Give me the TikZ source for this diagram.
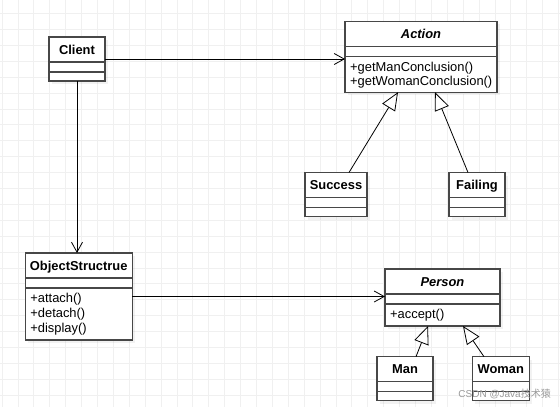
\documentclass[tikz,border=0pt]{standalone}
\usepackage{fontspec}
\setmainfont{Liberation Sans}
\newfontfamily\cjk{Noto Sans CJK SC}
\usetikzlibrary{arrows.meta,shadows}
\newcommand\umlfont{\fontsize{12.9pt}{14.7pt}\selectfont}
\tikzset{
  classbox/.style={draw=black!72, line width=1.3pt, fill=white, inner sep=0pt, outer sep=0pt,
    drop shadow={opacity=0.1, shadow xshift=3pt, shadow yshift=-3pt}},
  classname/.style={font=\umlfont\bfseries, inner sep=0pt, text height=9.2pt, text depth=0pt},
  abstractname/.style={classname, font=\umlfont\bfseries\itshape},
  methods/.style={font=\umlfont, anchor=north west, align=left, inner sep=0pt},
  sepline/.style={draw=black!72, line width=1.3pt},
  assoc/.style={-{Straight Barb[length=10pt,width=11pt]}, line width=0.8pt},
  inherit/.style={-{Triangle[open,length=18pt,width=15pt]}, line width=0.8pt},
  gridline/.style={black!6, line width=0.8pt}
}
\begin{document}
\begin{tikzpicture}[x=1pt, y=-1pt]
  \useasboundingbox (0,0) rectangle (560,407);
  % background grid
  \foreach \i in {0,...,35} \draw[gridline] ({2+15.9*\i},0) -- ({2+15.9*\i},407);
  \foreach \j in {0,...,24} \draw[gridline] (0,{13.5+15.9*\j}) -- (560,{13.5+15.9*\j});

  % classes
  \node[classbox, minimum width=56, minimum height=44] (client) at (77,59) {};
  \node[classbox, minimum width=152, minimum height=71] (action) at (421,56.7) {};
  \node[classbox, minimum width=62, minimum height=44] (success) at (336,194.5) {};
  \node[classbox, minimum width=56, minimum height=44] (failing) at (477,194.5) {};
  \node[classbox, minimum width=107, minimum height=87] (os) at (78.7,296.5) {};
  \node[classbox, minimum width=115, minimum height=57] (person) at (442.5,297.5) {};
  \node[classbox, minimum width=56, minimum height=44] (man) at (405,378.7) {};
  \node[classbox, minimum width=57, minimum height=44] (woman) at (500.8,378.7) {};

  \foreach \c in {client,action,success,failing,os,person,man,woman} {
    \draw[sepline] ([yshift=-25pt]\c.north west) -- ([yshift=-25pt]\c.north east);
    \draw[sepline] ([yshift=-35pt]\c.north west) -- ([yshift=-35pt]\c.north east);
  }

  % class names
  \node[classname] (client-name) at ([yshift=-12.5pt]client.north) {Client};
  \node[abstractname] (action-name) at ([yshift=-12.5pt]action.north) {Action};
  \node[classname] (success-name) at ([yshift=-12.5pt]success.north) {Success};
  \node[classname] (failing-name) at ([yshift=-12.5pt]failing.north) {Failing};
  \node[classname] (os-name) at ([yshift=-12.5pt]os.north) {ObjectStructrue};
  \node[abstractname] (person-name) at ([yshift=-12.5pt]person.north) {Person};
  \node[classname] (man-name) at ([yshift=-12.5pt]man.north) {Man};
  \node[classname] (woman-name) at ([yshift=-12.5pt]woman.north) {Woman};

  % operations
  \node[methods] (action-ops) at ([xshift=5pt,yshift=-39.6pt]action.north west)
    {\strut+getManConclusion()\\\strut+getWomanConclusion()};
  \node[methods] (os-ops) at ([xshift=5pt,yshift=-39.4pt]os.north west)
    {\strut+attach()\\\strut+detach()\\\strut+display()};
  \node[methods] (person-ops) at ([xshift=5pt,yshift=-39.2pt]person.north west)
    {\strut+accept()};

  % associations
  \draw[assoc] (client.east) -- (client.east -| action.west);
  \draw[assoc] (client.south) -- (client.south |- os.north);
  \draw[assoc] (os.east) -- (os.east -| person.west);

  % generalizations
  \draw[inherit] ([xshift=13pt]success.north) -- ([xshift=-23pt]action.south);
  \draw[inherit] ([xshift=-9pt]failing.north) -- ([xshift=14pt]action.south);
  \draw[inherit] ([xshift=11pt]man.north) -- ([xshift=-14.5pt]person.south);
  \draw[inherit] ([xshift=-16.8pt]woman.north) -- ([xshift=20.5pt]person.south);

  % watermark
  \node[anchor=east, inner sep=0pt, text=black!40, font=\fontsize{10pt}{12pt}\selectfont] (mark)
    at (551,394) {CSDN @Java{\cjk 技术猿}};
\end{tikzpicture}
\end{document}
